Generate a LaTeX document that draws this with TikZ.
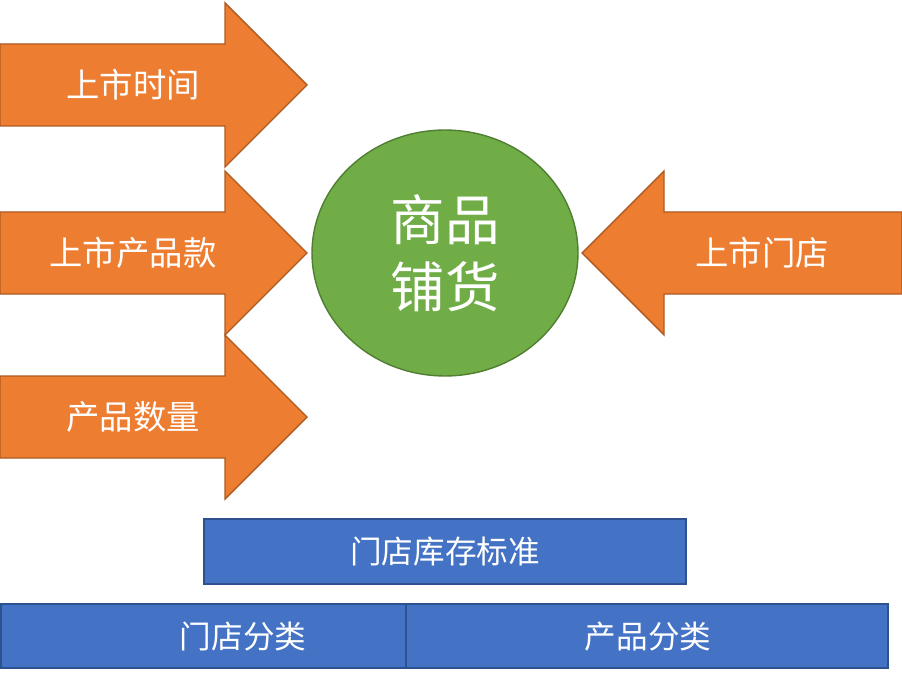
\documentclass[tikz,border=0pt]{standalone}
\usepackage{fontspec}
\setmainfont{Noto Sans CJK SC}
\usetikzlibrary{shapes.geometric}
\definecolor{arroworange}{HTML}{ED7D31}
\definecolor{arrowedge}{HTML}{AE5A21}
\definecolor{hubgreen}{HTML}{70AD47}
\definecolor{hubedge}{HTML}{507E32}
\definecolor{boxblue}{HTML}{4472C4}
\definecolor{boxedge}{HTML}{2F528F}
\begin{document}
\begin{tikzpicture}
  [
  x=0.02cm, y=-0.02cm, line width=0.8pt,
  factor/.style={fill=arroworange, draw=arrowedge},
  label/.style={text=white, font=\fontsize{19}{19}\selectfont},
  block/.style={fill=boxblue, draw=boxedge}
  ]
\useasboundingbox (0,0) rectangle (902,682);

% arrows from the left
\foreach \y/\t/\n in {85/上市时间/a1, 253/上市产品款/a2, 417/产品数量/a3} {
  \draw[factor] (0,\y-41) -- (225,\y-41) -- (225,\y-82) -- (307,\y)
    -- (225,\y+82) -- (225,\y+41) -- (0,\y+41) -- cycle;
  \node[label] (\n) at (133,\y) {\t};
}
% arrow from the right
\draw[factor] (902,212) -- (664,212) -- (664,171) -- (582,253)
  -- (664,335) -- (664,294) -- (902,294) -- cycle;
\node[label] (a4) at (762,253) {上市门店};

\node[ellipse, fill=hubgreen, draw=hubedge, minimum width=5.32cm,
  minimum height=4.92cm, text=white, align=center,
  font=\fontsize{31}{38}\selectfont] (hub) at (445,253) {商品\\铺货};

% base blocks
\draw[block] (204,519) rectangle (686,584);
\node[label, font=\fontsize{18}{18}\selectfont] (b1) at (445,552) {门店库存标准};
\draw[block] (1,604) rectangle (406,668);
\draw[block] (406,604) rectangle (888,668);
\node[label, font=\fontsize{18}{18}\selectfont] (b2) at (243,637) {门店分类};
\node[label, font=\fontsize{18}{18}\selectfont] (b3) at (648,637) {产品分类};

\end{tikzpicture}
\end{document}
